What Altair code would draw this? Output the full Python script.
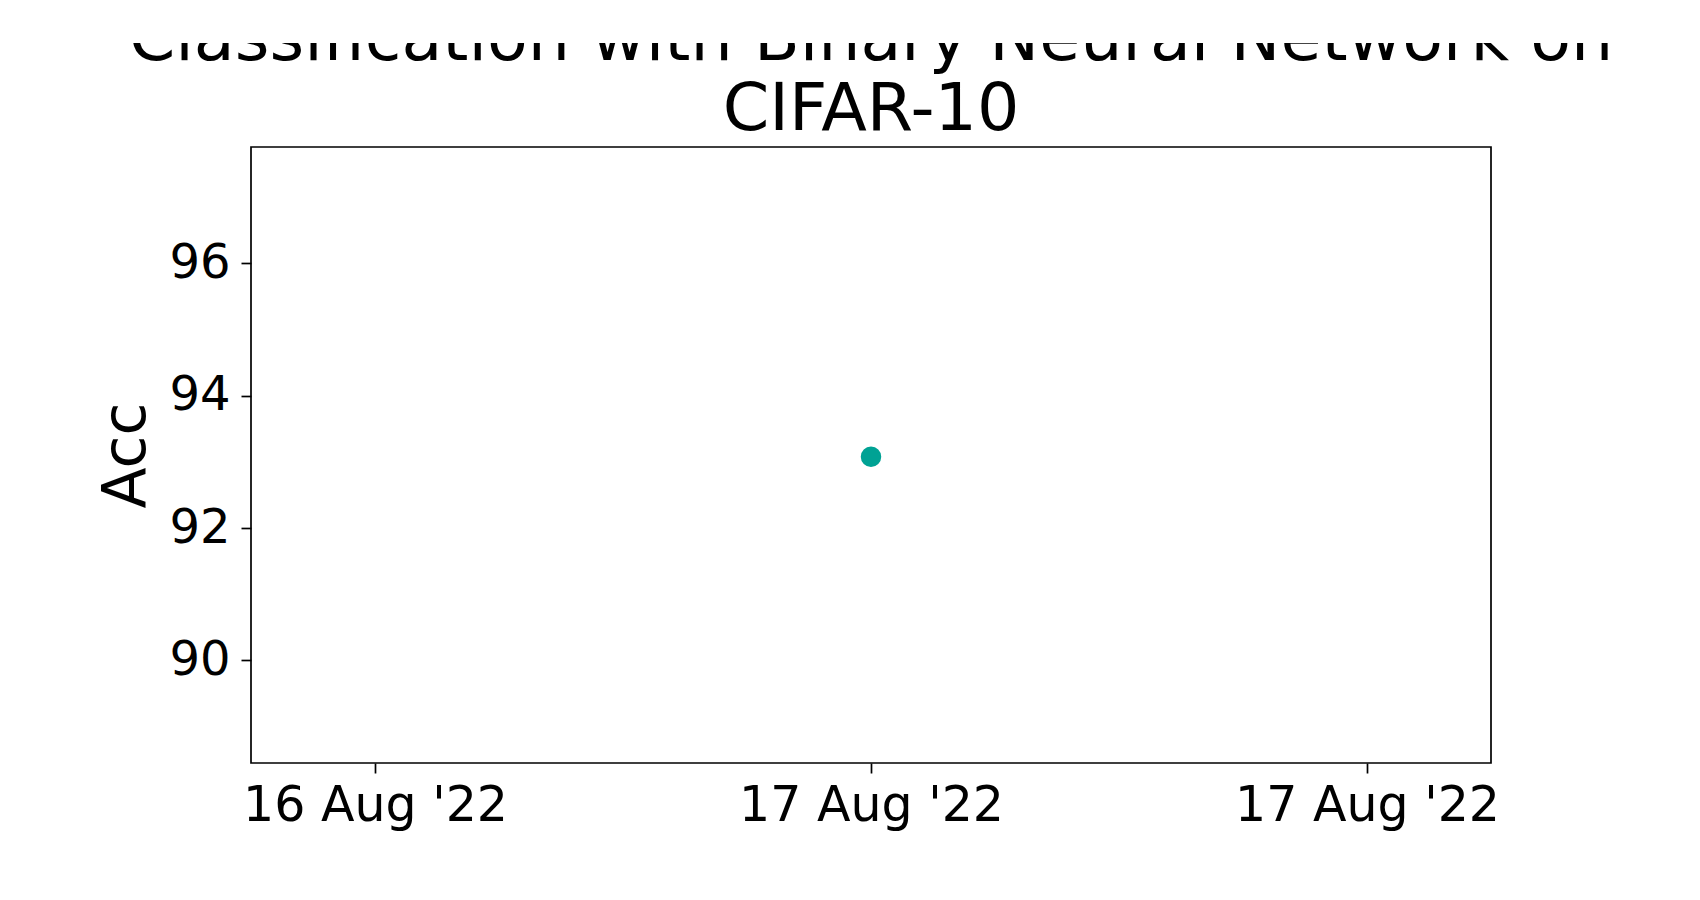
import altair as alt
import pandas as pd

# ---- data ----
DATES = ["2022-08-17T00:00:00Z"]
ACC = [93.08]
TITLE_LINES = ["Classification with Binary Neural Network on", "CIFAR-10"]
Y_TICKS = [90, 92, 94, 96]
Y_DOMAIN = [88.45, 97.76]
X_TICKS = ["2022-08-16T12:00:00Z", "2022-08-17T00:00:00Z", "2022-08-17T12:00:00Z"]
X_DOMAIN = ["2022-08-16T09:00:00Z", "2022-08-17T15:00:00Z"]


def ms(s):
    return int(pd.Timestamp(s).value // 10**6)


df = pd.DataFrame({"date": DATES, "acc": ACC})
title_df = pd.DataFrame({"line": TITLE_LINES, "row": [0, 1]})

FONT = "DejaVu Sans"
PLOT_W, PLOT_H = 1240, 616
TITLE_W, TITLE_H = 1560, 103.5

# ---- title panel (first line clipped at its top, as in the reference) ----
tbase = alt.Chart(title_df)
t1 = tbase.transform_filter("datum.row == 0").mark_text(
    font=FONT, fontSize=66.7, align="center", baseline="alphabetic", color="black", clip=True
).encode(text="line:N", x=alt.value(TITLE_W / 2), y=alt.value(17))
t2 = tbase.transform_filter("datum.row == 1").mark_text(
    font=FONT, fontSize=66.7, align="center", baseline="alphabetic", color="black", clip=True
).encode(text="line:N", x=alt.value(TITLE_W / 2), y=alt.value(87))
title_chart = alt.layer(t1, t2).properties(
    width=TITLE_W, height=TITLE_H, view=alt.ViewBackground(stroke="transparent")
)

# ---- main plot ----
main = alt.Chart(df).mark_circle(size=420, color="#00a294", opacity=1).encode(
    x=alt.X(
        "date:T",
        scale=alt.Scale(type="utc", domain=[ms(d) for d in X_DOMAIN]),
        axis=alt.Axis(
            values=[ms(t) for t in X_TICKS],
            format="%d %b '%y",
            title=None,
            labelFontSize=49,
            labelPadding=8,
            labelFlush=False,
            labelOverlap=False,
            labelBound=False,
            labelLimit=1000,
        ),
    ),
    y=alt.Y(
        "acc:Q",
        scale=alt.Scale(domain=Y_DOMAIN, zero=False, nice=False),
        axis=alt.Axis(
            values=Y_TICKS,
            format="d",
            title="Acc",
            labelFontSize=48,
            labelPadding=11,
            labelLimit=1000,
            titleFontSize=60,
            titleFontWeight="normal",
            titleAngle=270,
            titleAlign="center",
            titleBaseline="alphabetic",
            titleX=-107,
            titleY=PLOT_H / 2,
        ),
    ),
).properties(
    width=PLOT_W,
    height=PLOT_H,
    view=alt.ViewBackground(stroke="black", strokeWidth=1.7),
)

chart = (
    alt.vconcat(title_chart, main, spacing=0, center=True, bounds="flush")
    .properties(padding={"left": 82, "top": 34, "right": 5, "bottom": 5}, background="white")
    .configure(font=FONT)
    .configure_axis(
        grid=False,
        domain=False,
        ticks=True,
        tickColor="black",
        tickWidth=1.7,
        tickSize=10,
        labelColor="black",
        titleColor="black",
        labelFont=FONT,
        titleFont=FONT,
    )
)

chart.save("out.html", embed_options={"renderer": "svg", "actions": False})
